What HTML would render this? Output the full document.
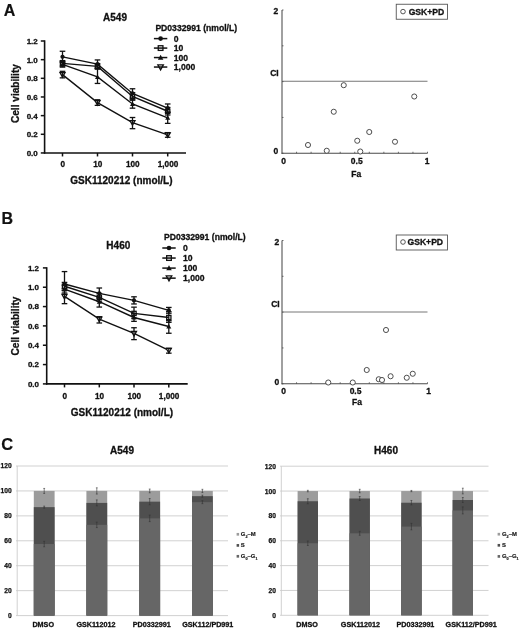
<!DOCTYPE html>
<html lang="en"><head><meta charset="utf-8"><title>Figure</title>
<style>html,body{margin:0;padding:0;background:#fff;}body{width:520px;height:630px;overflow:hidden;}svg{display:block;font-family:"Liberation Sans", Arial, sans-serif;}</style>
</head><body>
<svg width="520" height="630" viewBox="0 0 520 630">
<rect width="520" height="630" fill="#fff"/>
<text x="3.7" y="15.9" font-size="16" text-anchor="start" font-weight="bold" fill="#111" stroke="#111" stroke-width="0.2" stroke-linejoin="round" >A</text>
<text x="1.6" y="224.3" font-size="16" text-anchor="start" font-weight="bold" fill="#111" stroke="#111" stroke-width="0.2" stroke-linejoin="round" >B</text>
<text x="1.2" y="449.9" font-size="16.4" text-anchor="start" font-weight="bold" fill="#111" stroke="#111" stroke-width="0.2" stroke-linejoin="round" >C</text>
<line x1="44.60" y1="40.30" x2="44.60" y2="153.65" stroke="#111" stroke-width="1.6" />
<line x1="43.90" y1="152.95" x2="186.00" y2="152.95" stroke="#111" stroke-width="1.6" />
<line x1="40.80" y1="152.95" x2="44.60" y2="152.95" stroke="#111" stroke-width="1.5" />
<text x="37.800000000000004" y="155.85" font-size="8" text-anchor="end" font-weight="bold" fill="#111" stroke="#111" stroke-width="0.3" stroke-linejoin="round" >0.0</text>
<line x1="40.80" y1="134.29" x2="44.60" y2="134.29" stroke="#111" stroke-width="1.5" />
<text x="37.800000000000004" y="137.19166666666666" font-size="8" text-anchor="end" font-weight="bold" fill="#111" stroke="#111" stroke-width="0.3" stroke-linejoin="round" >0.2</text>
<line x1="40.80" y1="115.63" x2="44.60" y2="115.63" stroke="#111" stroke-width="1.5" />
<text x="37.800000000000004" y="118.53333333333333" font-size="8" text-anchor="end" font-weight="bold" fill="#111" stroke="#111" stroke-width="0.3" stroke-linejoin="round" >0.4</text>
<line x1="40.80" y1="96.97" x2="44.60" y2="96.97" stroke="#111" stroke-width="1.5" />
<text x="37.800000000000004" y="99.875" font-size="8" text-anchor="end" font-weight="bold" fill="#111" stroke="#111" stroke-width="0.3" stroke-linejoin="round" >0.6</text>
<line x1="40.80" y1="78.32" x2="44.60" y2="78.32" stroke="#111" stroke-width="1.5" />
<text x="37.800000000000004" y="81.21666666666667" font-size="8" text-anchor="end" font-weight="bold" fill="#111" stroke="#111" stroke-width="0.3" stroke-linejoin="round" >0.8</text>
<line x1="40.80" y1="59.66" x2="44.60" y2="59.66" stroke="#111" stroke-width="1.5" />
<text x="37.800000000000004" y="62.55833333333333" font-size="8" text-anchor="end" font-weight="bold" fill="#111" stroke="#111" stroke-width="0.3" stroke-linejoin="round" >1.0</text>
<line x1="40.80" y1="41.00" x2="44.60" y2="41.00" stroke="#111" stroke-width="1.5" />
<text x="37.800000000000004" y="43.899999999999984" font-size="8" text-anchor="end" font-weight="bold" fill="#111" stroke="#111" stroke-width="0.3" stroke-linejoin="round" >1.2</text>
<line x1="62.50" y1="152.95" x2="62.50" y2="156.45" stroke="#111" stroke-width="1.5" />
<text x="62.8" y="167.3" font-size="8.2" text-anchor="middle" font-weight="bold" fill="#111" stroke="#111" stroke-width="0.3" stroke-linejoin="round" >0</text>
<line x1="97.50" y1="152.95" x2="97.50" y2="156.45" stroke="#111" stroke-width="1.5" />
<text x="97.8" y="167.3" font-size="8.2" text-anchor="middle" font-weight="bold" fill="#111" stroke="#111" stroke-width="0.3" stroke-linejoin="round" >10</text>
<line x1="132.50" y1="152.95" x2="132.50" y2="156.45" stroke="#111" stroke-width="1.5" />
<text x="132.8" y="167.3" font-size="8.2" text-anchor="middle" font-weight="bold" fill="#111" stroke="#111" stroke-width="0.3" stroke-linejoin="round" >100</text>
<line x1="167.70" y1="152.95" x2="167.70" y2="156.45" stroke="#111" stroke-width="1.5" />
<text x="168.0" y="167.3" font-size="8.2" text-anchor="middle" font-weight="bold" fill="#111" stroke="#111" stroke-width="0.3" stroke-linejoin="round" >1,000</text>
<text x="115" y="21.1" font-size="10" text-anchor="middle" font-weight="bold" fill="#111" stroke="#111" stroke-width="0.3" stroke-linejoin="round" >A549</text>
<text transform="translate(18.8,93.57499999999999) rotate(-90)" font-size="10.1" text-anchor="middle" font-weight="bold" fill="#111" stroke="#111" stroke-width="0.3">Cell viability</text>
<text x="121.39999999999999" y="183.9" font-size="10" text-anchor="middle" font-weight="bold" fill="#111" stroke="#111" stroke-width="0.3" stroke-linejoin="round" >GSK1120212 (nmol/L)</text>
<polyline points="62.50,56.86 97.50,64.14 132.50,93.43 167.70,108.17" fill="none" stroke="#111" stroke-width="1.4"/>
<polyline points="62.50,63.39 97.50,66.38 132.50,96.42 167.70,111.25" fill="none" stroke="#111" stroke-width="1.4"/>
<polyline points="62.50,64.32 97.50,76.92 132.50,103.97 167.70,117.78" fill="none" stroke="#111" stroke-width="1.4"/>
<polyline points="62.50,74.58 97.50,102.57 132.50,122.63 167.70,134.94" fill="none" stroke="#111" stroke-width="1.4"/>
<circle cx="62.50" cy="56.86" r="2.12" fill="#111"/>
<circle cx="97.50" cy="64.14" r="2.12" fill="#111"/>
<circle cx="132.50" cy="93.43" r="2.12" fill="#111"/>
<circle cx="167.70" cy="108.17" r="2.12" fill="#111"/>
<rect x="60.38" y="61.27" width="4.25" height="4.25" fill="none" stroke="#111" stroke-width="1.3"/>
<rect x="95.38" y="64.25" width="4.25" height="4.25" fill="none" stroke="#111" stroke-width="1.3"/>
<rect x="130.38" y="94.29" width="4.25" height="4.25" fill="none" stroke="#111" stroke-width="1.3"/>
<rect x="165.57" y="109.12" width="4.25" height="4.25" fill="none" stroke="#111" stroke-width="1.3"/>
<polygon points="62.50,61.82 65.00,66.32 60.00,66.32" fill="#111"/>
<polygon points="97.50,74.42 100.00,78.92 95.00,78.92" fill="#111"/>
<polygon points="132.50,101.47 135.00,105.97 130.00,105.97" fill="#111"/>
<polygon points="167.70,115.28 170.20,119.78 165.20,119.78" fill="#111"/>
<polygon points="60.00,72.58 65.00,72.58 62.50,77.08" fill="#fff" stroke="#111" stroke-width="1.3"/>
<polygon points="95.00,100.57 100.00,100.57 97.50,105.07" fill="#fff" stroke="#111" stroke-width="1.3"/>
<polygon points="130.00,120.63 135.00,120.63 132.50,125.13" fill="#fff" stroke="#111" stroke-width="1.3"/>
<polygon points="165.20,132.94 170.20,132.94 167.70,137.44" fill="#fff" stroke="#111" stroke-width="1.3"/>
<line x1="62.50" y1="51.26" x2="62.50" y2="62.46" stroke="#111" stroke-width="1.3" />
<line x1="59.70" y1="51.26" x2="65.30" y2="51.26" stroke="#111" stroke-width="1.3" />
<line x1="59.70" y1="62.46" x2="65.30" y2="62.46" stroke="#111" stroke-width="1.3" />
<line x1="97.50" y1="59.94" x2="97.50" y2="68.33" stroke="#111" stroke-width="1.3" />
<line x1="94.70" y1="59.94" x2="100.30" y2="59.94" stroke="#111" stroke-width="1.3" />
<line x1="94.70" y1="68.33" x2="100.30" y2="68.33" stroke="#111" stroke-width="1.3" />
<line x1="132.50" y1="88.77" x2="132.50" y2="98.09" stroke="#111" stroke-width="1.3" />
<line x1="129.70" y1="88.77" x2="135.30" y2="88.77" stroke="#111" stroke-width="1.3" />
<line x1="129.70" y1="98.09" x2="135.30" y2="98.09" stroke="#111" stroke-width="1.3" />
<line x1="167.70" y1="103.97" x2="167.70" y2="112.37" stroke="#111" stroke-width="1.3" />
<line x1="164.90" y1="103.97" x2="170.50" y2="103.97" stroke="#111" stroke-width="1.3" />
<line x1="164.90" y1="112.37" x2="170.50" y2="112.37" stroke="#111" stroke-width="1.3" />
<line x1="62.50" y1="60.59" x2="62.50" y2="66.19" stroke="#111" stroke-width="1.3" />
<line x1="59.70" y1="60.59" x2="65.30" y2="60.59" stroke="#111" stroke-width="1.3" />
<line x1="59.70" y1="66.19" x2="65.30" y2="66.19" stroke="#111" stroke-width="1.3" />
<line x1="97.50" y1="63.58" x2="97.50" y2="69.17" stroke="#111" stroke-width="1.3" />
<line x1="94.70" y1="63.58" x2="100.30" y2="63.58" stroke="#111" stroke-width="1.3" />
<line x1="94.70" y1="69.17" x2="100.30" y2="69.17" stroke="#111" stroke-width="1.3" />
<line x1="132.50" y1="92.68" x2="132.50" y2="100.15" stroke="#111" stroke-width="1.3" />
<line x1="129.70" y1="92.68" x2="135.30" y2="92.68" stroke="#111" stroke-width="1.3" />
<line x1="129.70" y1="100.15" x2="135.30" y2="100.15" stroke="#111" stroke-width="1.3" />
<line x1="167.70" y1="107.52" x2="167.70" y2="114.98" stroke="#111" stroke-width="1.3" />
<line x1="164.90" y1="107.52" x2="170.50" y2="107.52" stroke="#111" stroke-width="1.3" />
<line x1="164.90" y1="114.98" x2="170.50" y2="114.98" stroke="#111" stroke-width="1.3" />
<line x1="62.50" y1="61.52" x2="62.50" y2="67.12" stroke="#111" stroke-width="1.3" />
<line x1="59.70" y1="61.52" x2="65.30" y2="61.52" stroke="#111" stroke-width="1.3" />
<line x1="59.70" y1="67.12" x2="65.30" y2="67.12" stroke="#111" stroke-width="1.3" />
<line x1="97.50" y1="68.05" x2="97.50" y2="83.45" stroke="#111" stroke-width="1.3" />
<line x1="94.70" y1="68.05" x2="100.30" y2="68.05" stroke="#111" stroke-width="1.3" />
<line x1="94.70" y1="83.45" x2="100.30" y2="83.45" stroke="#111" stroke-width="1.3" />
<line x1="132.50" y1="99.77" x2="132.50" y2="108.17" stroke="#111" stroke-width="1.3" />
<line x1="129.70" y1="99.77" x2="135.30" y2="99.77" stroke="#111" stroke-width="1.3" />
<line x1="129.70" y1="108.17" x2="135.30" y2="108.17" stroke="#111" stroke-width="1.3" />
<line x1="167.70" y1="112.18" x2="167.70" y2="123.38" stroke="#111" stroke-width="1.3" />
<line x1="164.90" y1="112.18" x2="170.50" y2="112.18" stroke="#111" stroke-width="1.3" />
<line x1="164.90" y1="123.38" x2="170.50" y2="123.38" stroke="#111" stroke-width="1.3" />
<line x1="62.50" y1="71.32" x2="62.50" y2="77.85" stroke="#111" stroke-width="1.3" />
<line x1="59.70" y1="71.32" x2="65.30" y2="71.32" stroke="#111" stroke-width="1.3" />
<line x1="59.70" y1="77.85" x2="65.30" y2="77.85" stroke="#111" stroke-width="1.3" />
<line x1="97.50" y1="99.77" x2="97.50" y2="105.37" stroke="#111" stroke-width="1.3" />
<line x1="94.70" y1="99.77" x2="100.30" y2="99.77" stroke="#111" stroke-width="1.3" />
<line x1="94.70" y1="105.37" x2="100.30" y2="105.37" stroke="#111" stroke-width="1.3" />
<line x1="132.50" y1="117.50" x2="132.50" y2="128.69" stroke="#111" stroke-width="1.3" />
<line x1="129.70" y1="117.50" x2="135.30" y2="117.50" stroke="#111" stroke-width="1.3" />
<line x1="129.70" y1="128.69" x2="135.30" y2="128.69" stroke="#111" stroke-width="1.3" />
<line x1="167.70" y1="132.61" x2="167.70" y2="137.28" stroke="#111" stroke-width="1.3" />
<line x1="164.90" y1="132.61" x2="170.50" y2="132.61" stroke="#111" stroke-width="1.3" />
<line x1="164.90" y1="137.28" x2="170.50" y2="137.28" stroke="#111" stroke-width="1.3" />
<text x="155.4" y="30.8" font-size="8.6" text-anchor="start" font-weight="bold" fill="#111" stroke="#111" stroke-width="0.3" stroke-linejoin="round" >PD0332991 (nmol/L)</text>
<line x1="153.90" y1="38.60" x2="167.30" y2="38.60" stroke="#111" stroke-width="1.5" />
<circle cx="160.60" cy="38.60" r="2.34" fill="#111"/>
<text x="173.8" y="41.7" font-size="8.6" text-anchor="start" font-weight="bold" fill="#111" stroke="#111" stroke-width="0.3" stroke-linejoin="round" >0</text>
<line x1="153.90" y1="48.08" x2="167.30" y2="48.08" stroke="#111" stroke-width="1.5" />
<rect x="158.26" y="45.74" width="4.67" height="4.67" fill="none" stroke="#111" stroke-width="1.3"/>
<text x="173.8" y="51.18" font-size="8.6" text-anchor="start" font-weight="bold" fill="#111" stroke="#111" stroke-width="0.3" stroke-linejoin="round" >10</text>
<line x1="153.90" y1="57.56" x2="167.30" y2="57.56" stroke="#111" stroke-width="1.5" />
<polygon points="160.60,54.81 163.35,59.76 157.85,59.76" fill="#111"/>
<text x="173.8" y="60.660000000000004" font-size="8.6" text-anchor="start" font-weight="bold" fill="#111" stroke="#111" stroke-width="0.3" stroke-linejoin="round" >100</text>
<line x1="153.90" y1="67.04" x2="167.30" y2="67.04" stroke="#111" stroke-width="1.5" />
<polygon points="157.85,64.84 163.35,64.84 160.60,69.79" fill="none" stroke="#111" stroke-width="1.3"/>
<text x="173.8" y="70.14" font-size="8.6" text-anchor="start" font-weight="bold" fill="#111" stroke="#111" stroke-width="0.3" stroke-linejoin="round" >1,000</text>
<line x1="46.70" y1="267.20" x2="46.70" y2="384.60" stroke="#111" stroke-width="1.6" />
<line x1="46.00" y1="383.90" x2="187.70" y2="383.90" stroke="#111" stroke-width="1.6" />
<line x1="42.90" y1="383.90" x2="46.70" y2="383.90" stroke="#111" stroke-width="1.5" />
<text x="39.0" y="386.79999999999995" font-size="8" text-anchor="end" font-weight="bold" fill="#111" stroke="#111" stroke-width="0.3" stroke-linejoin="round" >0.0</text>
<line x1="42.90" y1="364.57" x2="46.70" y2="364.57" stroke="#111" stroke-width="1.5" />
<text x="39.0" y="367.46666666666664" font-size="8" text-anchor="end" font-weight="bold" fill="#111" stroke="#111" stroke-width="0.3" stroke-linejoin="round" >0.2</text>
<line x1="42.90" y1="345.23" x2="46.70" y2="345.23" stroke="#111" stroke-width="1.5" />
<text x="39.0" y="348.13333333333327" font-size="8" text-anchor="end" font-weight="bold" fill="#111" stroke="#111" stroke-width="0.3" stroke-linejoin="round" >0.4</text>
<line x1="42.90" y1="325.90" x2="46.70" y2="325.90" stroke="#111" stroke-width="1.5" />
<text x="39.0" y="328.79999999999995" font-size="8" text-anchor="end" font-weight="bold" fill="#111" stroke="#111" stroke-width="0.3" stroke-linejoin="round" >0.6</text>
<line x1="42.90" y1="306.57" x2="46.70" y2="306.57" stroke="#111" stroke-width="1.5" />
<text x="39.0" y="309.4666666666666" font-size="8" text-anchor="end" font-weight="bold" fill="#111" stroke="#111" stroke-width="0.3" stroke-linejoin="round" >0.8</text>
<line x1="42.90" y1="287.23" x2="46.70" y2="287.23" stroke="#111" stroke-width="1.5" />
<text x="39.0" y="290.13333333333327" font-size="8" text-anchor="end" font-weight="bold" fill="#111" stroke="#111" stroke-width="0.3" stroke-linejoin="round" >1.0</text>
<line x1="42.90" y1="267.90" x2="46.70" y2="267.90" stroke="#111" stroke-width="1.5" />
<text x="39.0" y="270.79999999999995" font-size="8" text-anchor="end" font-weight="bold" fill="#111" stroke="#111" stroke-width="0.3" stroke-linejoin="round" >1.2</text>
<line x1="64.50" y1="383.90" x2="64.50" y2="387.40" stroke="#111" stroke-width="1.5" />
<text x="64.8" y="398.7" font-size="8.2" text-anchor="middle" font-weight="bold" fill="#111" stroke="#111" stroke-width="0.3" stroke-linejoin="round" >0</text>
<line x1="99.30" y1="383.90" x2="99.30" y2="387.40" stroke="#111" stroke-width="1.5" />
<text x="99.6" y="398.7" font-size="8.2" text-anchor="middle" font-weight="bold" fill="#111" stroke="#111" stroke-width="0.3" stroke-linejoin="round" >10</text>
<line x1="134.00" y1="383.90" x2="134.00" y2="387.40" stroke="#111" stroke-width="1.5" />
<text x="134.3" y="398.7" font-size="8.2" text-anchor="middle" font-weight="bold" fill="#111" stroke="#111" stroke-width="0.3" stroke-linejoin="round" >100</text>
<line x1="168.80" y1="383.90" x2="168.80" y2="387.40" stroke="#111" stroke-width="1.5" />
<text x="169.10000000000002" y="398.7" font-size="8.2" text-anchor="middle" font-weight="bold" fill="#111" stroke="#111" stroke-width="0.3" stroke-linejoin="round" >1,000</text>
<text x="118.3" y="248.6" font-size="10" text-anchor="middle" font-weight="bold" fill="#111" stroke="#111" stroke-width="0.3" stroke-linejoin="round" >H460</text>
<text transform="translate(18.8,326.0) rotate(-90)" font-size="10.1" text-anchor="middle" font-weight="bold" fill="#111" stroke="#111" stroke-width="0.3">Cell viability</text>
<text x="121.95" y="415.9" font-size="10" text-anchor="middle" font-weight="bold" fill="#111" stroke="#111" stroke-width="0.3" stroke-linejoin="round" >GSK1120212 (nmol/L)</text>
<polyline points="64.50,283.95 99.30,293.32 134.00,300.38 168.80,310.34" fill="none" stroke="#111" stroke-width="1.4"/>
<polyline points="64.50,286.27 99.30,297.29 134.00,313.43 168.80,317.49" fill="none" stroke="#111" stroke-width="1.4"/>
<polyline points="64.50,289.17 99.30,301.73 134.00,317.49 168.80,326.48" fill="none" stroke="#111" stroke-width="1.4"/>
<polyline points="64.50,296.42 99.30,319.13 134.00,333.34 168.80,350.45" fill="none" stroke="#111" stroke-width="1.4"/>
<circle cx="64.50" cy="283.95" r="2.12" fill="#111"/>
<circle cx="99.30" cy="293.32" r="2.12" fill="#111"/>
<circle cx="134.00" cy="300.38" r="2.12" fill="#111"/>
<circle cx="168.80" cy="310.34" r="2.12" fill="#111"/>
<rect x="62.38" y="284.14" width="4.25" height="4.25" fill="none" stroke="#111" stroke-width="1.3"/>
<rect x="97.17" y="295.16" width="4.25" height="4.25" fill="none" stroke="#111" stroke-width="1.3"/>
<rect x="131.88" y="311.30" width="4.25" height="4.25" fill="none" stroke="#111" stroke-width="1.3"/>
<rect x="166.68" y="315.36" width="4.25" height="4.25" fill="none" stroke="#111" stroke-width="1.3"/>
<polygon points="64.50,286.67 67.00,291.17 62.00,291.17" fill="#111"/>
<polygon points="99.30,299.23 101.80,303.73 96.80,303.73" fill="#111"/>
<polygon points="134.00,314.99 136.50,319.49 131.50,319.49" fill="#111"/>
<polygon points="168.80,323.98 171.30,328.48 166.30,328.48" fill="#111"/>
<polygon points="62.00,294.42 67.00,294.42 64.50,298.92" fill="#fff" stroke="#111" stroke-width="1.3"/>
<polygon points="96.80,317.13 101.80,317.13 99.30,321.63" fill="#fff" stroke="#111" stroke-width="1.3"/>
<polygon points="131.50,331.34 136.50,331.34 134.00,335.84" fill="#fff" stroke="#111" stroke-width="1.3"/>
<polygon points="166.30,348.45 171.30,348.45 168.80,352.95" fill="#fff" stroke="#111" stroke-width="1.3"/>
<line x1="64.50" y1="271.57" x2="64.50" y2="288.78" stroke="#111" stroke-width="1.3" />
<line x1="61.70" y1="271.57" x2="67.30" y2="271.57" stroke="#111" stroke-width="1.3" />
<line x1="61.70" y1="288.78" x2="67.30" y2="288.78" stroke="#111" stroke-width="1.3" />
<line x1="99.30" y1="288.01" x2="99.30" y2="298.16" stroke="#111" stroke-width="1.3" />
<line x1="96.50" y1="288.01" x2="102.10" y2="288.01" stroke="#111" stroke-width="1.3" />
<line x1="96.50" y1="298.16" x2="102.10" y2="298.16" stroke="#111" stroke-width="1.3" />
<line x1="134.00" y1="296.80" x2="134.00" y2="303.96" stroke="#111" stroke-width="1.3" />
<line x1="131.20" y1="296.80" x2="136.80" y2="296.80" stroke="#111" stroke-width="1.3" />
<line x1="131.20" y1="303.96" x2="136.80" y2="303.96" stroke="#111" stroke-width="1.3" />
<line x1="168.80" y1="307.44" x2="168.80" y2="313.24" stroke="#111" stroke-width="1.3" />
<line x1="166.00" y1="307.44" x2="171.60" y2="307.44" stroke="#111" stroke-width="1.3" />
<line x1="166.00" y1="313.24" x2="171.60" y2="313.24" stroke="#111" stroke-width="1.3" />
<line x1="64.50" y1="282.40" x2="64.50" y2="290.13" stroke="#111" stroke-width="1.3" />
<line x1="61.70" y1="282.40" x2="67.30" y2="282.40" stroke="#111" stroke-width="1.3" />
<line x1="61.70" y1="290.13" x2="67.30" y2="290.13" stroke="#111" stroke-width="1.3" />
<line x1="99.30" y1="293.42" x2="99.30" y2="301.15" stroke="#111" stroke-width="1.3" />
<line x1="96.50" y1="293.42" x2="102.10" y2="293.42" stroke="#111" stroke-width="1.3" />
<line x1="96.50" y1="301.15" x2="102.10" y2="301.15" stroke="#111" stroke-width="1.3" />
<line x1="134.00" y1="307.15" x2="134.00" y2="318.26" stroke="#111" stroke-width="1.3" />
<line x1="131.20" y1="307.15" x2="136.80" y2="307.15" stroke="#111" stroke-width="1.3" />
<line x1="131.20" y1="318.26" x2="136.80" y2="318.26" stroke="#111" stroke-width="1.3" />
<line x1="168.80" y1="311.69" x2="168.80" y2="322.32" stroke="#111" stroke-width="1.3" />
<line x1="166.00" y1="311.69" x2="171.60" y2="311.69" stroke="#111" stroke-width="1.3" />
<line x1="166.00" y1="322.32" x2="171.60" y2="322.32" stroke="#111" stroke-width="1.3" />
<line x1="64.50" y1="285.30" x2="64.50" y2="293.03" stroke="#111" stroke-width="1.3" />
<line x1="61.70" y1="285.30" x2="67.30" y2="285.30" stroke="#111" stroke-width="1.3" />
<line x1="61.70" y1="293.03" x2="67.30" y2="293.03" stroke="#111" stroke-width="1.3" />
<line x1="99.30" y1="296.90" x2="99.30" y2="307.05" stroke="#111" stroke-width="1.3" />
<line x1="96.50" y1="296.90" x2="102.10" y2="296.90" stroke="#111" stroke-width="1.3" />
<line x1="96.50" y1="307.05" x2="102.10" y2="307.05" stroke="#111" stroke-width="1.3" />
<line x1="134.00" y1="313.62" x2="134.00" y2="321.36" stroke="#111" stroke-width="1.3" />
<line x1="131.20" y1="313.62" x2="136.80" y2="313.62" stroke="#111" stroke-width="1.3" />
<line x1="131.20" y1="321.36" x2="136.80" y2="321.36" stroke="#111" stroke-width="1.3" />
<line x1="168.80" y1="320.68" x2="168.80" y2="333.25" stroke="#111" stroke-width="1.3" />
<line x1="166.00" y1="320.68" x2="171.60" y2="320.68" stroke="#111" stroke-width="1.3" />
<line x1="166.00" y1="333.25" x2="171.60" y2="333.25" stroke="#111" stroke-width="1.3" />
<line x1="64.50" y1="290.62" x2="64.50" y2="303.67" stroke="#111" stroke-width="1.3" />
<line x1="61.70" y1="290.62" x2="67.30" y2="290.62" stroke="#111" stroke-width="1.3" />
<line x1="61.70" y1="303.67" x2="67.30" y2="303.67" stroke="#111" stroke-width="1.3" />
<line x1="99.30" y1="316.72" x2="99.30" y2="323.00" stroke="#111" stroke-width="1.3" />
<line x1="96.50" y1="316.72" x2="102.10" y2="316.72" stroke="#111" stroke-width="1.3" />
<line x1="96.50" y1="323.00" x2="102.10" y2="323.00" stroke="#111" stroke-width="1.3" />
<line x1="134.00" y1="327.74" x2="134.00" y2="339.63" stroke="#111" stroke-width="1.3" />
<line x1="131.20" y1="327.74" x2="136.80" y2="327.74" stroke="#111" stroke-width="1.3" />
<line x1="131.20" y1="339.63" x2="136.80" y2="339.63" stroke="#111" stroke-width="1.3" />
<line x1="168.80" y1="348.33" x2="168.80" y2="353.16" stroke="#111" stroke-width="1.3" />
<line x1="166.00" y1="348.33" x2="171.60" y2="348.33" stroke="#111" stroke-width="1.3" />
<line x1="166.00" y1="353.16" x2="171.60" y2="353.16" stroke="#111" stroke-width="1.3" />
<text x="164" y="239.79999999999998" font-size="8.6" text-anchor="start" font-weight="bold" fill="#111" stroke="#111" stroke-width="0.3" stroke-linejoin="round" >PD0332991 (nmol/L)</text>
<line x1="162.30" y1="248.00" x2="175.70" y2="248.00" stroke="#111" stroke-width="1.5" />
<circle cx="169.00" cy="248.00" r="2.34" fill="#111"/>
<text x="183" y="251.1" font-size="8.6" text-anchor="start" font-weight="bold" fill="#111" stroke="#111" stroke-width="0.3" stroke-linejoin="round" >0</text>
<line x1="162.30" y1="258.05" x2="175.70" y2="258.05" stroke="#111" stroke-width="1.5" />
<rect x="166.66" y="255.71" width="4.67" height="4.67" fill="none" stroke="#111" stroke-width="1.3"/>
<text x="183" y="261.15000000000003" font-size="8.6" text-anchor="start" font-weight="bold" fill="#111" stroke="#111" stroke-width="0.3" stroke-linejoin="round" >10</text>
<line x1="162.30" y1="268.10" x2="175.70" y2="268.10" stroke="#111" stroke-width="1.5" />
<polygon points="169.00,265.35 171.75,270.30 166.25,270.30" fill="#111"/>
<text x="183" y="271.20000000000005" font-size="8.6" text-anchor="start" font-weight="bold" fill="#111" stroke="#111" stroke-width="0.3" stroke-linejoin="round" >100</text>
<line x1="162.30" y1="278.15" x2="175.70" y2="278.15" stroke="#111" stroke-width="1.5" />
<polygon points="166.25,275.95 171.75,275.95 169.00,280.90" fill="none" stroke="#111" stroke-width="1.3"/>
<text x="183" y="281.25" font-size="8.6" text-anchor="start" font-weight="bold" fill="#111" stroke="#111" stroke-width="0.3" stroke-linejoin="round" >1,000</text>
<line x1="282.00" y1="10.00" x2="282.00" y2="153.75" stroke="#4a4a4a" stroke-width="1.05" />
<line x1="281.50" y1="153.25" x2="427.50" y2="153.25" stroke="#4a4a4a" stroke-width="1.05" />
<line x1="282.00" y1="81.25" x2="427.50" y2="81.25" stroke="#777" stroke-width="1" />
<line x1="296.55" y1="151.75" x2="296.55" y2="153.25" stroke="#4a4a4a" stroke-width="0.8" />
<line x1="311.10" y1="151.75" x2="311.10" y2="153.25" stroke="#4a4a4a" stroke-width="0.8" />
<line x1="325.65" y1="151.75" x2="325.65" y2="153.25" stroke="#4a4a4a" stroke-width="0.8" />
<line x1="340.20" y1="151.75" x2="340.20" y2="153.25" stroke="#4a4a4a" stroke-width="0.8" />
<line x1="354.75" y1="151.75" x2="354.75" y2="153.25" stroke="#4a4a4a" stroke-width="0.8" />
<line x1="369.30" y1="151.75" x2="369.30" y2="153.25" stroke="#4a4a4a" stroke-width="0.8" />
<line x1="383.85" y1="151.75" x2="383.85" y2="153.25" stroke="#4a4a4a" stroke-width="0.8" />
<line x1="398.40" y1="151.75" x2="398.40" y2="153.25" stroke="#4a4a4a" stroke-width="0.8" />
<line x1="412.95" y1="151.75" x2="412.95" y2="153.25" stroke="#4a4a4a" stroke-width="0.8" />
<line x1="427.50" y1="151.75" x2="427.50" y2="153.25" stroke="#4a4a4a" stroke-width="0.8" />
<line x1="282.00" y1="153.25" x2="283.50" y2="153.25" stroke="#4a4a4a" stroke-width="0.8" />
<line x1="282.00" y1="117.44" x2="283.50" y2="117.44" stroke="#4a4a4a" stroke-width="0.8" />
<line x1="282.00" y1="81.62" x2="283.50" y2="81.62" stroke="#4a4a4a" stroke-width="0.8" />
<line x1="282.00" y1="45.81" x2="283.50" y2="45.81" stroke="#4a4a4a" stroke-width="0.8" />
<line x1="282.00" y1="10.00" x2="283.50" y2="10.00" stroke="#4a4a4a" stroke-width="0.8" />
<text x="278.2" y="14.3" font-size="8.5" text-anchor="end" font-weight="bold" fill="#111" stroke="#111" stroke-width="0.3" stroke-linejoin="round" >2</text>
<text x="278.2" y="153.85" font-size="8.5" text-anchor="end" font-weight="bold" fill="#111" stroke="#111" stroke-width="0.3" stroke-linejoin="round" >0</text>
<text x="278.7" y="75.85" font-size="8.5" text-anchor="end" font-weight="bold" fill="#111" stroke="#111" stroke-width="0.3" stroke-linejoin="round" >CI</text>
<text x="283.7" y="163.75" font-size="8.5" text-anchor="middle" font-weight="bold" fill="#111" stroke="#111" stroke-width="0.3" stroke-linejoin="round" >0</text>
<text x="356.75" y="163.75" font-size="8.5" text-anchor="middle" font-weight="bold" fill="#111" stroke="#111" stroke-width="0.3" stroke-linejoin="round" >0.5</text>
<text x="427.0" y="163.75" font-size="8.5" text-anchor="middle" font-weight="bold" fill="#111" stroke="#111" stroke-width="0.3" stroke-linejoin="round" >1</text>
<text x="356.3" y="176.75" font-size="8.5" text-anchor="middle" font-weight="bold" fill="#111" stroke="#111" stroke-width="0.3" stroke-linejoin="round" >Fa</text>
<circle cx="343.75" cy="85.2" r="2.55" fill="#fff" stroke="#444" stroke-width="0.95"/>
<circle cx="333.75" cy="111.75" r="2.55" fill="#fff" stroke="#444" stroke-width="0.95"/>
<circle cx="308" cy="145" r="2.55" fill="#fff" stroke="#444" stroke-width="0.95"/>
<circle cx="326.75" cy="150.75" r="2.55" fill="#fff" stroke="#444" stroke-width="0.95"/>
<circle cx="357.25" cy="140.75" r="2.55" fill="#fff" stroke="#444" stroke-width="0.95"/>
<circle cx="369.25" cy="132" r="2.55" fill="#fff" stroke="#444" stroke-width="0.95"/>
<circle cx="360.25" cy="151.5" r="2.55" fill="#fff" stroke="#444" stroke-width="0.95"/>
<circle cx="395" cy="141.75" r="2.55" fill="#fff" stroke="#444" stroke-width="0.95"/>
<circle cx="414.25" cy="96.5" r="2.55" fill="#fff" stroke="#444" stroke-width="0.95"/>
<rect x="396.25" y="4.25" width="51.25" height="15.0" fill="#fff" stroke="#555" stroke-width="0.9"/>
<circle cx="403" cy="11.6" r="2.3" fill="#fff" stroke="#3a3a3a" stroke-width="0.85"/>
<text x="408.7" y="14.7" font-size="8.6" text-anchor="start" font-weight="bold" fill="#111" stroke="#111" stroke-width="0.3" stroke-linejoin="round" >GSK+PD</text>
<line x1="282.00" y1="240.50" x2="282.00" y2="384.25" stroke="#4a4a4a" stroke-width="1.05" />
<line x1="281.50" y1="383.75" x2="427.50" y2="383.75" stroke="#4a4a4a" stroke-width="1.05" />
<line x1="282.00" y1="312.00" x2="427.50" y2="312.00" stroke="#777" stroke-width="1" />
<line x1="296.55" y1="382.25" x2="296.55" y2="383.75" stroke="#4a4a4a" stroke-width="0.8" />
<line x1="311.10" y1="382.25" x2="311.10" y2="383.75" stroke="#4a4a4a" stroke-width="0.8" />
<line x1="325.65" y1="382.25" x2="325.65" y2="383.75" stroke="#4a4a4a" stroke-width="0.8" />
<line x1="340.20" y1="382.25" x2="340.20" y2="383.75" stroke="#4a4a4a" stroke-width="0.8" />
<line x1="354.75" y1="382.25" x2="354.75" y2="383.75" stroke="#4a4a4a" stroke-width="0.8" />
<line x1="369.30" y1="382.25" x2="369.30" y2="383.75" stroke="#4a4a4a" stroke-width="0.8" />
<line x1="383.85" y1="382.25" x2="383.85" y2="383.75" stroke="#4a4a4a" stroke-width="0.8" />
<line x1="398.40" y1="382.25" x2="398.40" y2="383.75" stroke="#4a4a4a" stroke-width="0.8" />
<line x1="412.95" y1="382.25" x2="412.95" y2="383.75" stroke="#4a4a4a" stroke-width="0.8" />
<line x1="427.50" y1="382.25" x2="427.50" y2="383.75" stroke="#4a4a4a" stroke-width="0.8" />
<line x1="282.00" y1="383.75" x2="283.50" y2="383.75" stroke="#4a4a4a" stroke-width="0.8" />
<line x1="282.00" y1="347.94" x2="283.50" y2="347.94" stroke="#4a4a4a" stroke-width="0.8" />
<line x1="282.00" y1="312.12" x2="283.50" y2="312.12" stroke="#4a4a4a" stroke-width="0.8" />
<line x1="282.00" y1="276.31" x2="283.50" y2="276.31" stroke="#4a4a4a" stroke-width="0.8" />
<line x1="282.00" y1="240.50" x2="283.50" y2="240.50" stroke="#4a4a4a" stroke-width="0.8" />
<text x="279.2" y="244.8" font-size="8.5" text-anchor="end" font-weight="bold" fill="#111" stroke="#111" stroke-width="0.3" stroke-linejoin="round" >2</text>
<text x="279.2" y="385.35" font-size="8.5" text-anchor="end" font-weight="bold" fill="#111" stroke="#111" stroke-width="0.3" stroke-linejoin="round" >0</text>
<text x="279.7" y="306.6" font-size="8.5" text-anchor="end" font-weight="bold" fill="#111" stroke="#111" stroke-width="0.3" stroke-linejoin="round" >CI</text>
<text x="283.7" y="394.25" font-size="8.5" text-anchor="middle" font-weight="bold" fill="#111" stroke="#111" stroke-width="0.3" stroke-linejoin="round" >0</text>
<text x="355.55" y="394.25" font-size="8.5" text-anchor="middle" font-weight="bold" fill="#111" stroke="#111" stroke-width="0.3" stroke-linejoin="round" >0.5</text>
<text x="428.7" y="394.25" font-size="8.5" text-anchor="middle" font-weight="bold" fill="#111" stroke="#111" stroke-width="0.3" stroke-linejoin="round" >1</text>
<text x="357" y="404.75" font-size="8.5" text-anchor="middle" font-weight="bold" fill="#111" stroke="#111" stroke-width="0.3" stroke-linejoin="round" >Fa</text>
<circle cx="386" cy="330" r="2.55" fill="#fff" stroke="#444" stroke-width="0.95"/>
<circle cx="366.75" cy="370" r="2.55" fill="#fff" stroke="#444" stroke-width="0.95"/>
<circle cx="328.25" cy="382.5" r="2.55" fill="#fff" stroke="#444" stroke-width="0.95"/>
<circle cx="352.75" cy="382.5" r="2.55" fill="#fff" stroke="#444" stroke-width="0.95"/>
<circle cx="378.75" cy="379.25" r="2.55" fill="#fff" stroke="#444" stroke-width="0.95"/>
<circle cx="382" cy="380" r="2.55" fill="#fff" stroke="#444" stroke-width="0.95"/>
<circle cx="390.6" cy="376.25" r="2.55" fill="#fff" stroke="#444" stroke-width="0.95"/>
<circle cx="406.75" cy="377.75" r="2.55" fill="#fff" stroke="#444" stroke-width="0.95"/>
<circle cx="412.75" cy="373.75" r="2.55" fill="#fff" stroke="#444" stroke-width="0.95"/>
<rect x="396.25" y="235" width="51.25" height="15" fill="#fff" stroke="#555" stroke-width="0.9"/>
<circle cx="403" cy="242" r="2.3" fill="#fff" stroke="#3a3a3a" stroke-width="0.85"/>
<text x="407.5" y="245.1" font-size="8.6" text-anchor="start" font-weight="bold" fill="#111" stroke="#111" stroke-width="0.3" stroke-linejoin="round" >GSK+PD</text>
<line x1="16.00" y1="615.60" x2="228.00" y2="615.60" stroke="#cccccc" stroke-width="0.9" />
<text x="11.7" y="618.0500000000001" font-size="6.7" text-anchor="end" font-weight="bold" fill="#111" stroke="#111" stroke-width="0.25" stroke-linejoin="round" >0</text>
<line x1="16.00" y1="590.67" x2="228.00" y2="590.67" stroke="#cccccc" stroke-width="0.9" />
<text x="11.7" y="593.1166666666668" font-size="6.7" text-anchor="end" font-weight="bold" fill="#111" stroke="#111" stroke-width="0.25" stroke-linejoin="round" >20</text>
<line x1="16.00" y1="565.73" x2="228.00" y2="565.73" stroke="#cccccc" stroke-width="0.9" />
<text x="11.7" y="568.1833333333334" font-size="6.7" text-anchor="end" font-weight="bold" fill="#111" stroke="#111" stroke-width="0.25" stroke-linejoin="round" >40</text>
<line x1="16.00" y1="540.80" x2="228.00" y2="540.80" stroke="#cccccc" stroke-width="0.9" />
<text x="11.7" y="543.25" font-size="6.7" text-anchor="end" font-weight="bold" fill="#111" stroke="#111" stroke-width="0.25" stroke-linejoin="round" >60</text>
<line x1="16.00" y1="515.87" x2="228.00" y2="515.87" stroke="#cccccc" stroke-width="0.9" />
<text x="11.7" y="518.3166666666667" font-size="6.7" text-anchor="end" font-weight="bold" fill="#111" stroke="#111" stroke-width="0.25" stroke-linejoin="round" >80</text>
<line x1="16.00" y1="490.93" x2="228.00" y2="490.93" stroke="#cccccc" stroke-width="0.9" />
<text x="11.7" y="493.3833333333333" font-size="6.7" text-anchor="end" font-weight="bold" fill="#111" stroke="#111" stroke-width="0.25" stroke-linejoin="round" >100</text>
<line x1="16.00" y1="466.00" x2="228.00" y2="466.00" stroke="#cccccc" stroke-width="0.9" />
<text x="11.7" y="468.45" font-size="6.7" text-anchor="end" font-weight="bold" fill="#111" stroke="#111" stroke-width="0.25" stroke-linejoin="round" >120</text>
<line x1="17.20" y1="466.00" x2="17.20" y2="615.60" stroke="#cccccc" stroke-width="0.9" />
<rect x="33.80" y="490.93" width="20.8" height="124.67" fill="#9c9c9c"/>
<rect x="33.80" y="507.14" width="20.8" height="108.46" fill="#4f4f4f"/>
<rect x="33.80" y="544.04" width="20.8" height="71.56" fill="#666666"/>
<line x1="44.20" y1="541.30" x2="44.20" y2="546.78" stroke="#333" stroke-width="0.6" />
<line x1="43.30" y1="541.30" x2="45.10" y2="541.30" stroke="#333" stroke-width="0.6" />
<line x1="43.30" y1="546.78" x2="45.10" y2="546.78" stroke="#333" stroke-width="0.6" />
<line x1="44.20" y1="506.14" x2="44.20" y2="508.14" stroke="#333" stroke-width="0.6" />
<line x1="43.30" y1="506.14" x2="45.10" y2="506.14" stroke="#333" stroke-width="0.6" />
<line x1="43.30" y1="508.14" x2="45.10" y2="508.14" stroke="#333" stroke-width="0.6" />
<line x1="44.20" y1="488.44" x2="44.20" y2="493.43" stroke="#333" stroke-width="0.6" />
<line x1="43.30" y1="488.44" x2="45.10" y2="488.44" stroke="#333" stroke-width="0.6" />
<line x1="43.30" y1="493.43" x2="45.10" y2="493.43" stroke="#333" stroke-width="0.6" />
<rect x="86.40" y="490.93" width="20.8" height="124.67" fill="#9c9c9c"/>
<rect x="86.40" y="502.90" width="20.8" height="112.70" fill="#4f4f4f"/>
<rect x="86.40" y="524.84" width="20.8" height="90.76" fill="#666666"/>
<line x1="96.80" y1="522.10" x2="96.80" y2="527.59" stroke="#333" stroke-width="0.6" />
<line x1="95.90" y1="522.10" x2="97.70" y2="522.10" stroke="#333" stroke-width="0.6" />
<line x1="95.90" y1="527.59" x2="97.70" y2="527.59" stroke="#333" stroke-width="0.6" />
<line x1="96.80" y1="499.91" x2="96.80" y2="505.89" stroke="#333" stroke-width="0.6" />
<line x1="95.90" y1="499.91" x2="97.70" y2="499.91" stroke="#333" stroke-width="0.6" />
<line x1="95.90" y1="505.89" x2="97.70" y2="505.89" stroke="#333" stroke-width="0.6" />
<line x1="96.80" y1="487.82" x2="96.80" y2="494.05" stroke="#333" stroke-width="0.6" />
<line x1="95.90" y1="487.82" x2="97.70" y2="487.82" stroke="#333" stroke-width="0.6" />
<line x1="95.90" y1="494.05" x2="97.70" y2="494.05" stroke="#333" stroke-width="0.6" />
<rect x="139.30" y="490.93" width="20.8" height="124.67" fill="#9c9c9c"/>
<rect x="139.30" y="501.65" width="20.8" height="113.95" fill="#4f4f4f"/>
<rect x="139.30" y="518.36" width="20.8" height="97.24" fill="#666666"/>
<line x1="149.70" y1="515.12" x2="149.70" y2="521.60" stroke="#333" stroke-width="0.6" />
<line x1="148.80" y1="515.12" x2="150.60" y2="515.12" stroke="#333" stroke-width="0.6" />
<line x1="148.80" y1="521.60" x2="150.60" y2="521.60" stroke="#333" stroke-width="0.6" />
<line x1="149.70" y1="498.54" x2="149.70" y2="504.77" stroke="#333" stroke-width="0.6" />
<line x1="148.80" y1="498.54" x2="150.60" y2="498.54" stroke="#333" stroke-width="0.6" />
<line x1="148.80" y1="504.77" x2="150.60" y2="504.77" stroke="#333" stroke-width="0.6" />
<line x1="149.70" y1="489.06" x2="149.70" y2="492.80" stroke="#333" stroke-width="0.6" />
<line x1="148.80" y1="489.06" x2="150.60" y2="489.06" stroke="#333" stroke-width="0.6" />
<line x1="148.80" y1="492.80" x2="150.60" y2="492.80" stroke="#333" stroke-width="0.6" />
<rect x="192.00" y="490.93" width="20.8" height="124.67" fill="#9c9c9c"/>
<rect x="192.00" y="496.17" width="20.8" height="119.43" fill="#4f4f4f"/>
<rect x="192.00" y="502.15" width="20.8" height="113.45" fill="#666666"/>
<line x1="202.40" y1="500.66" x2="202.40" y2="503.65" stroke="#333" stroke-width="0.6" />
<line x1="201.50" y1="500.66" x2="203.30" y2="500.66" stroke="#333" stroke-width="0.6" />
<line x1="201.50" y1="503.65" x2="203.30" y2="503.65" stroke="#333" stroke-width="0.6" />
<line x1="202.40" y1="495.17" x2="202.40" y2="497.17" stroke="#333" stroke-width="0.6" />
<line x1="201.50" y1="495.17" x2="203.30" y2="495.17" stroke="#333" stroke-width="0.6" />
<line x1="201.50" y1="497.17" x2="203.30" y2="497.17" stroke="#333" stroke-width="0.6" />
<line x1="202.40" y1="489.31" x2="202.40" y2="492.55" stroke="#333" stroke-width="0.6" />
<line x1="201.50" y1="489.31" x2="203.30" y2="489.31" stroke="#333" stroke-width="0.6" />
<line x1="201.50" y1="492.55" x2="203.30" y2="492.55" stroke="#333" stroke-width="0.6" />
<text x="122" y="453.6" font-size="10" text-anchor="middle" font-weight="bold" fill="#111" stroke="#111" stroke-width="0.3" stroke-linejoin="round" >A549</text>
<text x="43.2" y="627.2" font-size="7.2" text-anchor="middle" font-weight="bold" fill="#111" stroke="#111" stroke-width="0.3" stroke-linejoin="round" >DMSO</text>
<text x="96" y="627.2" font-size="7.2" text-anchor="middle" font-weight="bold" fill="#111" stroke="#111" stroke-width="0.3" stroke-linejoin="round" >GSK112012</text>
<text x="151.8" y="627.2" font-size="7.2" text-anchor="middle" font-weight="bold" fill="#111" stroke="#111" stroke-width="0.3" stroke-linejoin="round" >PD0332991</text>
<text x="207.8" y="627.2" font-size="7.2" text-anchor="middle" font-weight="bold" fill="#111" stroke="#111" stroke-width="0.3" stroke-linejoin="round" >GSK112/PD991</text>
<rect x="236.6" y="532.9499999999999" width="2.5" height="2.7" fill="#9c9c9c"/>
<text x="240.8" y="536.25" font-size="5.9" text-anchor="start" font-weight="bold" fill="#222" stroke="#222" stroke-width="0.2" stroke-linejoin="round" >G<tspan font-size="3.8" dy="2.0">2</tspan><tspan dy="-2.0">–M</tspan></text>
<rect x="236.6" y="544.05" width="2.5" height="2.7" fill="#4f4f4f"/>
<text x="240.8" y="547.35" font-size="5.9" text-anchor="start" font-weight="bold" fill="#222" stroke="#222" stroke-width="0.2" stroke-linejoin="round" >S</text>
<rect x="236.6" y="554.9499999999999" width="2.5" height="2.7" fill="#666666"/>
<text x="240.8" y="558.25" font-size="5.9" text-anchor="start" font-weight="bold" fill="#222" stroke="#222" stroke-width="0.2" stroke-linejoin="round" >G<tspan font-size="3.8" dy="2.0">0</tspan><tspan dy="-2.0">–G</tspan><tspan font-size="3.8" dy="2.0">1</tspan></text>
<line x1="280.10" y1="615.30" x2="488.50" y2="615.30" stroke="#cccccc" stroke-width="0.9" />
<text x="276" y="617.75" font-size="6.7" text-anchor="end" font-weight="bold" fill="#111" stroke="#111" stroke-width="0.25" stroke-linejoin="round" >0</text>
<line x1="280.10" y1="590.45" x2="488.50" y2="590.45" stroke="#cccccc" stroke-width="0.9" />
<text x="276" y="592.9" font-size="6.7" text-anchor="end" font-weight="bold" fill="#111" stroke="#111" stroke-width="0.25" stroke-linejoin="round" >20</text>
<line x1="280.10" y1="565.60" x2="488.50" y2="565.60" stroke="#cccccc" stroke-width="0.9" />
<text x="276" y="568.05" font-size="6.7" text-anchor="end" font-weight="bold" fill="#111" stroke="#111" stroke-width="0.25" stroke-linejoin="round" >40</text>
<line x1="280.10" y1="540.75" x2="488.50" y2="540.75" stroke="#cccccc" stroke-width="0.9" />
<text x="276" y="543.2" font-size="6.7" text-anchor="end" font-weight="bold" fill="#111" stroke="#111" stroke-width="0.25" stroke-linejoin="round" >60</text>
<line x1="280.10" y1="515.90" x2="488.50" y2="515.90" stroke="#cccccc" stroke-width="0.9" />
<text x="276" y="518.35" font-size="6.7" text-anchor="end" font-weight="bold" fill="#111" stroke="#111" stroke-width="0.25" stroke-linejoin="round" >80</text>
<line x1="280.10" y1="491.05" x2="488.50" y2="491.05" stroke="#cccccc" stroke-width="0.9" />
<text x="276" y="493.49999999999994" font-size="6.7" text-anchor="end" font-weight="bold" fill="#111" stroke="#111" stroke-width="0.25" stroke-linejoin="round" >100</text>
<line x1="280.10" y1="466.20" x2="488.50" y2="466.20" stroke="#cccccc" stroke-width="0.9" />
<text x="276" y="468.65" font-size="6.7" text-anchor="end" font-weight="bold" fill="#111" stroke="#111" stroke-width="0.25" stroke-linejoin="round" >120</text>
<line x1="281.30" y1="466.20" x2="281.30" y2="615.30" stroke="#cccccc" stroke-width="0.9" />
<rect x="297.60" y="491.05" width="20.4" height="124.25" fill="#9c9c9c"/>
<rect x="297.60" y="501.24" width="20.4" height="114.06" fill="#4f4f4f"/>
<rect x="297.60" y="543.24" width="20.4" height="72.06" fill="#666666"/>
<line x1="307.80" y1="541.00" x2="307.80" y2="545.47" stroke="#333" stroke-width="0.6" />
<line x1="306.90" y1="541.00" x2="308.70" y2="541.00" stroke="#333" stroke-width="0.6" />
<line x1="306.90" y1="545.47" x2="308.70" y2="545.47" stroke="#333" stroke-width="0.6" />
<line x1="307.80" y1="498.75" x2="307.80" y2="503.72" stroke="#333" stroke-width="0.6" />
<line x1="306.90" y1="498.75" x2="308.70" y2="498.75" stroke="#333" stroke-width="0.6" />
<line x1="306.90" y1="503.72" x2="308.70" y2="503.72" stroke="#333" stroke-width="0.6" />
<line x1="307.80" y1="490.30" x2="307.80" y2="491.80" stroke="#333" stroke-width="0.6" />
<line x1="306.90" y1="490.30" x2="308.70" y2="490.30" stroke="#333" stroke-width="0.6" />
<line x1="306.90" y1="491.80" x2="308.70" y2="491.80" stroke="#333" stroke-width="0.6" />
<rect x="349.50" y="491.05" width="20.4" height="124.25" fill="#9c9c9c"/>
<rect x="349.50" y="498.50" width="20.4" height="116.79" fill="#4f4f4f"/>
<rect x="349.50" y="533.29" width="20.4" height="82.00" fill="#666666"/>
<line x1="359.70" y1="531.31" x2="359.70" y2="535.28" stroke="#333" stroke-width="0.6" />
<line x1="358.80" y1="531.31" x2="360.60" y2="531.31" stroke="#333" stroke-width="0.6" />
<line x1="358.80" y1="535.28" x2="360.60" y2="535.28" stroke="#333" stroke-width="0.6" />
<line x1="359.70" y1="496.52" x2="359.70" y2="500.49" stroke="#333" stroke-width="0.6" />
<line x1="358.80" y1="496.52" x2="360.60" y2="496.52" stroke="#333" stroke-width="0.6" />
<line x1="358.80" y1="500.49" x2="360.60" y2="500.49" stroke="#333" stroke-width="0.6" />
<line x1="359.70" y1="489.31" x2="359.70" y2="492.79" stroke="#333" stroke-width="0.6" />
<line x1="358.80" y1="489.31" x2="360.60" y2="489.31" stroke="#333" stroke-width="0.6" />
<line x1="358.80" y1="492.79" x2="360.60" y2="492.79" stroke="#333" stroke-width="0.6" />
<rect x="401.20" y="491.05" width="20.4" height="124.25" fill="#9c9c9c"/>
<rect x="401.20" y="502.73" width="20.4" height="112.57" fill="#4f4f4f"/>
<rect x="401.20" y="526.59" width="20.4" height="88.71" fill="#666666"/>
<line x1="411.40" y1="523.36" x2="411.40" y2="529.82" stroke="#333" stroke-width="0.6" />
<line x1="410.50" y1="523.36" x2="412.30" y2="523.36" stroke="#333" stroke-width="0.6" />
<line x1="410.50" y1="529.82" x2="412.30" y2="529.82" stroke="#333" stroke-width="0.6" />
<line x1="411.40" y1="500.49" x2="411.40" y2="504.97" stroke="#333" stroke-width="0.6" />
<line x1="410.50" y1="500.49" x2="412.30" y2="500.49" stroke="#333" stroke-width="0.6" />
<line x1="410.50" y1="504.97" x2="412.30" y2="504.97" stroke="#333" stroke-width="0.6" />
<line x1="411.40" y1="490.43" x2="411.40" y2="491.67" stroke="#333" stroke-width="0.6" />
<line x1="410.50" y1="490.43" x2="412.30" y2="490.43" stroke="#333" stroke-width="0.6" />
<line x1="410.50" y1="491.67" x2="412.30" y2="491.67" stroke="#333" stroke-width="0.6" />
<rect x="452.60" y="491.05" width="20.4" height="124.25" fill="#9c9c9c"/>
<rect x="452.60" y="500.00" width="20.4" height="115.30" fill="#4f4f4f"/>
<rect x="452.60" y="510.43" width="20.4" height="104.87" fill="#666666"/>
<line x1="462.80" y1="506.95" x2="462.80" y2="513.91" stroke="#333" stroke-width="0.6" />
<line x1="461.90" y1="506.95" x2="463.70" y2="506.95" stroke="#333" stroke-width="0.6" />
<line x1="461.90" y1="513.91" x2="463.70" y2="513.91" stroke="#333" stroke-width="0.6" />
<line x1="462.80" y1="497.51" x2="462.80" y2="502.48" stroke="#333" stroke-width="0.6" />
<line x1="461.90" y1="497.51" x2="463.70" y2="497.51" stroke="#333" stroke-width="0.6" />
<line x1="461.90" y1="502.48" x2="463.70" y2="502.48" stroke="#333" stroke-width="0.6" />
<line x1="462.80" y1="488.19" x2="462.80" y2="493.91" stroke="#333" stroke-width="0.6" />
<line x1="461.90" y1="488.19" x2="463.70" y2="488.19" stroke="#333" stroke-width="0.6" />
<line x1="461.90" y1="493.91" x2="463.70" y2="493.91" stroke="#333" stroke-width="0.6" />
<text x="386" y="453.6" font-size="10" text-anchor="middle" font-weight="bold" fill="#111" stroke="#111" stroke-width="0.3" stroke-linejoin="round" >H460</text>
<text x="307" y="627.0" font-size="7.2" text-anchor="middle" font-weight="bold" fill="#111" stroke="#111" stroke-width="0.3" stroke-linejoin="round" >DMSO</text>
<text x="360.4" y="627.0" font-size="7.2" text-anchor="middle" font-weight="bold" fill="#111" stroke="#111" stroke-width="0.3" stroke-linejoin="round" >GSK112012</text>
<text x="415.4" y="627.0" font-size="7.2" text-anchor="middle" font-weight="bold" fill="#111" stroke="#111" stroke-width="0.3" stroke-linejoin="round" >PD0332991</text>
<text x="471.2" y="627.0" font-size="7.2" text-anchor="middle" font-weight="bold" fill="#111" stroke="#111" stroke-width="0.3" stroke-linejoin="round" >GSK112/PD991</text>
<rect x="497.6" y="532.85" width="2.5" height="2.7" fill="#9c9c9c"/>
<text x="502" y="536.1500000000001" font-size="5.9" text-anchor="start" font-weight="bold" fill="#222" stroke="#222" stroke-width="0.2" stroke-linejoin="round" >G<tspan font-size="3.8" dy="2.0">2</tspan><tspan dy="-2.0">–M</tspan></text>
<rect x="497.6" y="543.9499999999999" width="2.5" height="2.7" fill="#4f4f4f"/>
<text x="502" y="547.25" font-size="5.9" text-anchor="start" font-weight="bold" fill="#222" stroke="#222" stroke-width="0.2" stroke-linejoin="round" >S</text>
<rect x="497.6" y="555.05" width="2.5" height="2.7" fill="#666666"/>
<text x="502" y="558.35" font-size="5.9" text-anchor="start" font-weight="bold" fill="#222" stroke="#222" stroke-width="0.2" stroke-linejoin="round" >G<tspan font-size="3.8" dy="2.0">0</tspan><tspan dy="-2.0">–G</tspan><tspan font-size="3.8" dy="2.0">1</tspan></text>
</svg></body></html>
